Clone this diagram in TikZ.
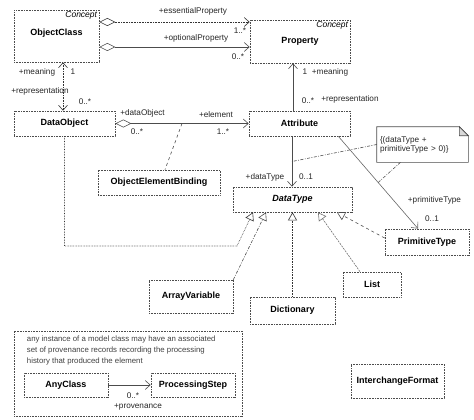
\documentclass[tikz,border=0pt]{standalone}
\usepackage{fontspec}
\setmainfont{Liberation Sans}
\usetikzlibrary{arrows.meta,calc}

\tikzset{
  >={Straight Barb[length=5pt,width=9pt]},
  cls/.style={draw=black!70,dash pattern=on .9pt off .7pt,line width=.7pt,inner sep=0pt,align=center,
    font=\fontsize{9}{10}\selectfont\bfseries},
  concept/.style={font=\fontsize{8.5}{10}\selectfont\itshape,inner sep=2pt},
  lab/.style={font=\fontsize{8.2}{9}\selectfont,inner sep=0pt,text=black!85},
  agg/.style={{Diamond[open,length=16pt,width=8pt]}->},
  gen/.style={-{Triangle[open,length=8pt,width=9pt]}},
  note/.style={dash pattern=on 3pt off 1.5pt on .8pt off 1.5pt}
}

\begin{document}
\begin{tikzpicture}[x=1pt,y=-1pt,line width=.6pt]
\useasboundingbox (0,0) rectangle (474,420);
\node[cls,minimum width=85,minimum height=52,text depth=8pt] (oc) at (56.5,36) {ObjectClass};
\node[cls,minimum width=100,minimum height=43] (prop) at (300,41.5) {Property};
\foreach \n in {oc,prop} \node[concept,anchor=north east] (\n c) at (\n.north east) {Concept};
\node[cls,minimum width=101,minimum height=25] (dobj) at (64.5,123.5) {DataObject};
\node[cls,minimum width=101,minimum height=25] (attr) at (299.5,123.5) {Attribute};
\node[cls,minimum width=122,minimum height=25] (oeb) at (159,182.5) {ObjectElementBinding};
\node[cls,minimum width=119,minimum height=25,font=\fontsize{9}{10}\selectfont\bfseries\itshape] (dtype) at (292.5,199.5) {DataType};
\node[cls,minimum width=84,minimum height=26] (ptype) at (427,242) {PrimitiveType};
\node[cls,minimum width=84,minimum height=33] (arrv) at (191,296.5) {ArrayVariable};
\node[cls,minimum width=85,minimum height=27] (dict) at (292.5,310.5) {Dictionary};
\node[cls,minimum width=58,minimum height=25] (list) at (372,284.5) {List};
\node[cls,minimum width=93,minimum height=34] (ifmt) at (397.5,381) {InterchangeFormat};

\node[lab,align=left,text width=85,minimum height=35,inner sep=3pt] (note) at (422.5,144.5) {\{(dataType +\\primitiveType > 0)\}};
\draw[black!70] (note.north west) -- ([xshift=-9]note.north east) -- ([yshift=-9]note.north east) -- (note.south east) -- (note.south west) -- cycle;
\draw[black!70,fill=black!15] ([xshift=-9]note.north east) -- ([xshift=-9,yshift=-9]note.north east) -- ([yshift=-9]note.north east) -- cycle;

\draw[agg,densely dotted,black!80] (oc.east |- 0,22) -- (prop.west |- 0,22);
\draw[agg,black!70] (oc.east |- 0,47) -- (prop.west |- 0,47);
\node[lab] (ep) at (193,11) {+essentialProperty}; \node[lab] (epm) at (240,31) {1..*};
\node[lab] (op) at (196,38) {+optionalProperty}; \node[lab] (opm) at (238,57) {0..*};

\draw[<->,densely dotted,black!80] (oc.south -| 63,0) -- (dobj.north -| 63,0);
\node[lab] (ocm) at (37,72) {+meaning}; \node[lab] (ocmm) at (73,72) {1};
\node[lab] (dor) at (40,91) {+representation}; \node[lab] (dorm) at (85,102) {0..*};

\draw[agg,black!70] (dobj.east) -- (attr.west);
\node[lab] (dop) at (142.5,113) {+dataObject}; \node[lab] (dopm) at (137,132) {0..*};
\node[lab] (el) at (216,115) {+element}; \node[lab] (elm) at (223,132) {1..*};
\coordinate (bind) at ($(dobj.east)!.5!(attr.west)$);
\draw[dashed,black!70] (bind) -- ([xshift=6]oeb.north);

\draw[->,black!70] (attr.north -| 293,0) -- (prop.south -| 293,0);
\node[lab] (pm) at (305,72) {1}; \node[lab] (pmn) at (330,72) {+meaning};
\node[lab] (pr) at (308,101) {0..*}; \node[lab] (prn) at (350,99) {+representation};

\draw[->,black!70] (attr.south -| 292,0) -- (dtype.north -| 292,0);
\node[lab] (dt) at (265,177) {+dataType}; \node[lab] (dtm) at (306,177) {0..1};
\draw[->,black!60] ([xshift=-12]attr.south east) -- ([xshift=-9]ptype.north);
\node[lab] (pt) at (434.5,200) {+primitiveType}; \node[lab] (ptm) at (432,219) {0..1};
\coordinate (c1) at ($(attr.south -| 292,0)!.5!(dtype.north -| 292,0)$);
\coordinate (c2) at ($([xshift=-12]attr.south east)!.5!([xshift=-9]ptype.north)$);
\draw[note,black!70] (note.west) -- (c1);
\draw[note,black!70] ([xshift=-22]note.south) -- (c2);

\coordinate (bend) at (237,246);
\draw[gen,densely dotted,black!80] (dobj.south) |- (bend) -- ([xshift=-39.5]dtype.south);
\draw[gen,note,black!70] (arrv.north east) -- ([xshift=-26.5]dtype.south);
\draw[gen,densely dotted,black!80] (dict.north) -- (dtype.south);
\draw[gen,dash pattern=on 2pt off 1pt,black!55] ([xshift=-12]list.north) -- ([xshift=25.5]dtype.south);
\draw[gen,dashed,black!70] ([yshift=4]ptype.west) -- ([xshift=44.5]dtype.south);

\node[draw=black!70,dash pattern=on .9pt off .7pt,line width=.7pt,minimum width=228,minimum height=85] (frm) at (128,373.5) {};
\node[lab,anchor=north west,align=left,text=black!75,font=\fontsize{7.8}{10.7}\selectfont] (frmtxt) at ([xshift=13,yshift=-5]frm.north west)
  {any instance of a model class may have an associated\\set of provenance records recording the processing\\history that produced the element};
\node[cls,minimum width=84,minimum height=24] (anyc) at (66,385) {AnyClass};
\node[cls,minimum width=84,minimum height=24] (pstep) at (193,385) {ProcessingStep};
\draw[->,black!70] (anyc) -- (pstep);
\node[lab] (prov) at (133,396) {0..*}; \node[lab] (provn) at (138,407) {+provenance};
\end{tikzpicture}
\end{document}
